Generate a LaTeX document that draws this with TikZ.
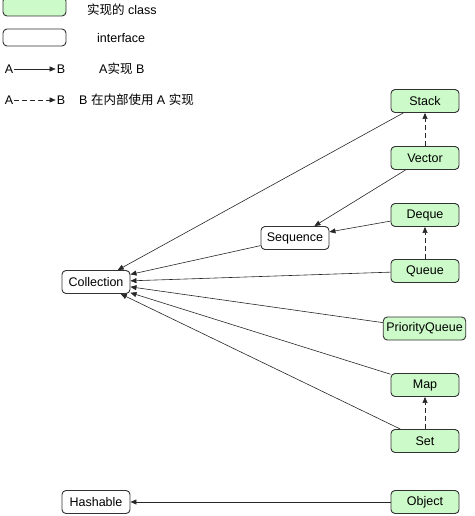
\documentclass[tikz,border=0pt]{standalone}
\usepackage{fontspec}
\setmainfont{Liberation Sans}
\newfontfamily\cjk{Noto Sans CJK SC}
\usetikzlibrary{arrows.meta}
\definecolor{implgreen}{RGB}{204,250,200}
\definecolor{boxline}{RGB}{50,50,50}
\tikzset{
  cls/.style={draw=boxline, fill=implgreen, rounded corners=4pt, line width=0.9pt,
    minimum width=68pt, minimum height=23pt, inner xsep=3pt,
    font=\fontsize{12.5}{14}\selectfont},
  iface/.style={cls, fill=white},
  txt/.style={inner sep=1pt, font=\fontsize{12.5}{14}\selectfont},
  implarrow/.style={-{Triangle[length=6pt,width=5pt]}, line width=0.6pt, draw=black!85},
  usesarrow/.style={implarrow, dash pattern=on 5pt off 3pt},
}
\begin{document}
\begin{tikzpicture}[x=1pt,y=-1pt]
\useasboundingbox (0,0) rectangle (474,516);
% legend
\node[cls, minimum width=63pt, minimum height=19pt] (legcls) at (34.5,6.5) {};
\node[iface, minimum width=63pt, minimum height=17pt] (legiface) at (34.5,37.5) {};
\node[txt, anchor=west] (legclstxt) at (86,9.5) {{\cjk 实现的} class};
\node[txt, anchor=west] (legifacetxt) at (96,38) {interface};
\node[txt] (la1) at (9,69) {A};
\node[txt] (lb1) at (61,69) {B};
\draw[implarrow] (la1) -- (lb1);
\node[txt, anchor=west] (legimpl) at (98,69) {A{\cjk 实现} B};
\node[txt] (la2) at (9,100) {A};
\node[txt] (lb2) at (61,100) {B};
\draw[usesarrow] (la2) -- (lb2);
\node[txt, anchor=west] (leguses) at (78,100) {B {\cjk 在内部使用} A {\cjk 实现}};
% classes
\node[cls] (stack) at (425,101) {Stack};
\node[cls] (vector) at (425,158) {Vector};
\node[cls] (deque) at (425,215) {Deque};
\node[cls] (queue) at (425,271) {Queue};
\node[cls] (pqueue) at (424.5,328.5) {PriorityQueue};
\node[cls] (map) at (425,385) {Map};
\node[cls] (set) at (425,441) {Set};
\node[cls] (object) at (425,502) {Object};
% interfaces
\node[iface] (sequence) at (295,238) {Sequence};
\node[iface] (collection) at (96,282) {Collection};
\node[iface] (hashable) at (96,502) {Hashable};
% edges
\draw[implarrow] (stack) -- (collection);
\draw[implarrow] (vector) -- (sequence);
\draw[implarrow] (deque) -- (sequence);
\draw[implarrow] (sequence) -- (collection);
\draw[implarrow] (queue) -- (collection);
\draw[implarrow] (pqueue) -- (collection);
\draw[implarrow] (map) -- (collection);
\draw[implarrow] (set) -- (collection);
\draw[implarrow] (object) -- (hashable);
\draw[usesarrow] (vector) -- (stack);
\draw[usesarrow] (queue) -- (deque);
\draw[usesarrow] (set) -- (map);
\end{tikzpicture}
\end{document}
